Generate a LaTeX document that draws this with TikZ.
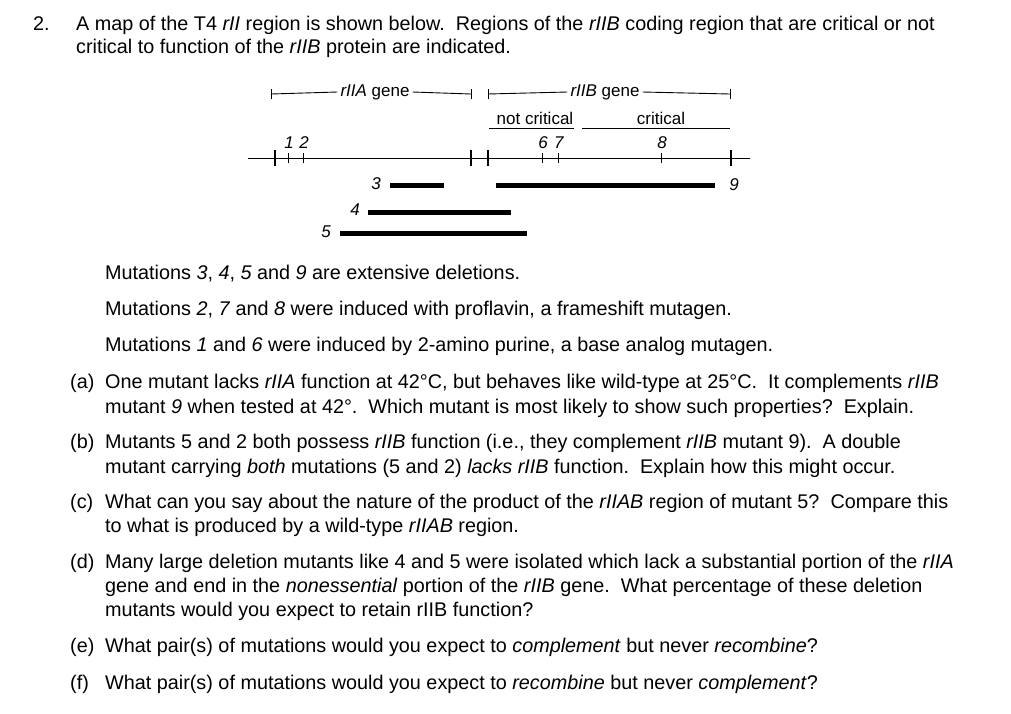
\documentclass[tikz,border=0pt]{standalone}
\usepackage{fontspec}
\setmainfont{Liberation Sans}
\begin{document}
\begin{tikzpicture}[x=1pt,y=-1pt,
 txt/.style={anchor=base west,inner sep=0pt,font=\fontsize{19.8}{23}\selectfont},
 lab/.style={inner sep=0pt,font=\fontsize{17}{20}\selectfont},
 bar/.style={line width=5pt},
 thin/.style={line width=0.9pt},
 thick/.style={line width=2.4pt}]
\useasboundingbox (0,0) rectangle (1011,713);
% brackets
\coordinate (a1) at (271,94); \coordinate (a2) at (471,94);
\node[lab,fill=white,inner xsep=3pt] (ta) at (375,92) {\textit{rIIA} gene};
\draw[thin] (a1) -- (ta.west); \draw[thin] (ta.east) -- (a2);
\draw[thin] (271,89) -- (271,99); \draw[thin] (471,89) -- (471,99);
\coordinate (b1) at (488,94); \coordinate (b2) at (730,94);
\node[lab,fill=white,inner xsep=3pt] (tb) at (605,92) {\textit{rIIB} gene};
\draw[thin] (b1) -- (tb.west); \draw[thin] (tb.east) -- (b2);
\draw[thin] (488,89) -- (488,99); \draw[thin] (730,89) -- (730,99);
\node[lab] (nc) at (535,118) {not critical};
\node[lab] (cr) at (661,118) {critical};
\draw[thin] (489,128) -- (574,128);
\draw[thin] (582,128) -- (730,128);
% main line
\coordinate (m1) at (248,158); \coordinate (m2) at (750,158);
\draw[thin] (m1) -- (m2);
\foreach \x in {275,471,488,731} \draw[thick] (\x,150) -- (\x,166);
\foreach \x/\n in {288/1,303/2,542/6,558/7,661/8} {
  \draw[thin] (\x,153) -- (\x,163);
  \node[lab] at (\x+1,143) {\textit{\n}};}
% deletions
\draw[bar] (390,185) -- (444,185); \node[lab] at (376,184) {\textit{3}};
\draw[bar] (496,185) -- (715,185); \node[lab] at (734,185) {\textit{9}};
\draw[bar] (368,212) -- (511,212); \node[lab] at (355,210) {\textit{4}};
\draw[bar] (340,233) -- (527,233); \node[lab] at (326,232) {\textit{5}};
% text
\node[txt] at (33,30) {2.};
\node[txt] at (76,30) {A map of the T4 \textit{rII} region is shown below.\ \ Regions of the \textit{rIIB} coding region that are critical or not};
\node[txt] at (76,53) {critical to function of the \textit{rIIB} protein are indicated.};
\node[txt] at (105,279) {Mutations \textit{3}, \textit{4}, \textit{5} and \textit{9} are extensive deletions.};
\node[txt] at (105,315) {Mutations \textit{2}, \textit{7} and \textit{8} were induced with proflavin, a frameshift mutagen.};
\node[txt] at (105,351) {Mutations \textit{1} and \textit{6} were induced by 2-amino purine, a base analog mutagen.};
\node[txt] at (70,388) {(a)};
\node[txt] at (105,388) {One mutant lacks \textit{rIIA} function at 42°C, but behaves like wild-type at 25°C.\ \ It complements \textit{rIIB}};
\node[txt] at (105,413) {mutant \textit{9} when tested at 42°.\ \ Which mutant is most likely to show such properties?\ \ Explain.};
\node[txt] at (70,448) {(b)};
\node[txt] at (105,448) {Mutants 5 and 2 both possess \textit{rIIB} function (i.e., they complement \textit{rIIB} mutant 9).\ \ A double};
\node[txt] at (105,473) {mutant carrying \textit{both} mutations (5 and 2) \textit{lacks rIIB} function.\ \ Explain how this might occur.};
\node[txt] at (70,508) {(c)};
\node[txt] at (105,508) {What can you say about the nature of the product of the \textit{rIIAB} region of mutant 5?\ \ Compare this};
\node[txt] at (105,532) {to what is produced by a wild-type \textit{rIIAB} region.};
\node[txt] at (70,568) {(d)};
\node[txt] at (105,568) {Many large deletion mutants like 4 and 5 were isolated which lack a substantial portion of the \textit{rIIA}};
\node[txt] at (105,592) {gene and end in the \textit{nonessential} portion of the \textit{rIIB} gene.\ \ What percentage of these deletion};
\node[txt] at (105,616) {mutants would you expect to retain rIIB function?};
\node[txt] at (70,652) {(e)};
\node[txt] at (105,652) {What pair(s) of mutations would you expect to \textit{complement} but never \textit{recombine}?};
\node[txt] at (70,689) {(f)};
\node[txt] at (105,689) {What pair(s) of mutations would you expect to \textit{recombine} but never \textit{complement}?};
\end{tikzpicture}
\end{document}
